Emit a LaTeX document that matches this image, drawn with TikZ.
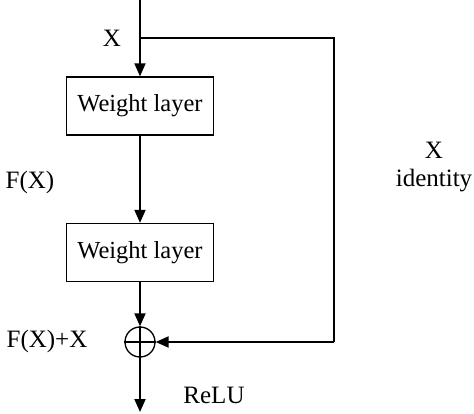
\documentclass[tikz,border=0pt]{standalone}
\usepackage{fontspec}
\setmainfont{Liberation Serif}
\usetikzlibrary{arrows.meta}
\begin{document}
\begin{tikzpicture}[x=1pt,y=-1pt,
  line width=2pt,
  arr/.style={-{Triangle[length=13pt,width=11pt]}},
  wbox/.style={draw,line width=1.3pt,minimum width=147pt,minimum height=58pt,inner sep=0pt,font=\fontsize{24.5}{28}\selectfont},
  lbl/.style={font=\fontsize{25}{28}\selectfont,inner sep=0pt}]
\useasboundingbox (0,0) rectangle (474,414);
\coordinate (top) at (140,0);
\coordinate (br) at (140,38);
\coordinate (cr) at (334,38);
\coordinate (cb) at (334,342);
\coordinate (out) at (140,412);
\node[wbox] (w1) at (140,106) {Weight layer};
\node[wbox] (w2) at (140,252.5) {Weight layer};
\node[draw,circle,line width=1.3pt,minimum size=30pt,inner sep=0pt] (sum) at (140,342) {};
\draw[line width=1.3pt] (sum.north) -- (sum.south) (sum.west) -- (sum.east);
\draw[arr] (top) -- (w1.north);
\draw (br) -- (cr) -- (cb);
\draw[arr] (cb) -- (sum.east);
\draw[arr] (w1.south) -- (w2.north);
\draw[arr] (w2.south) -- (sum.north);
\draw[arr] (sum.south) -- (out);
\node[lbl] (lx) at (112,38) {X};
\node[lbl] (lf) at (30,182) {F(X)};
\node[lbl] (lx2) at (434,150) {X};
\node[lbl] (lid) at (434,181) {identity};
\node[lbl] (lfx) at (47,341) {F(X)+X};
\node[lbl] (lr) at (214,395) {ReLU};
\end{tikzpicture}
\end{document}
